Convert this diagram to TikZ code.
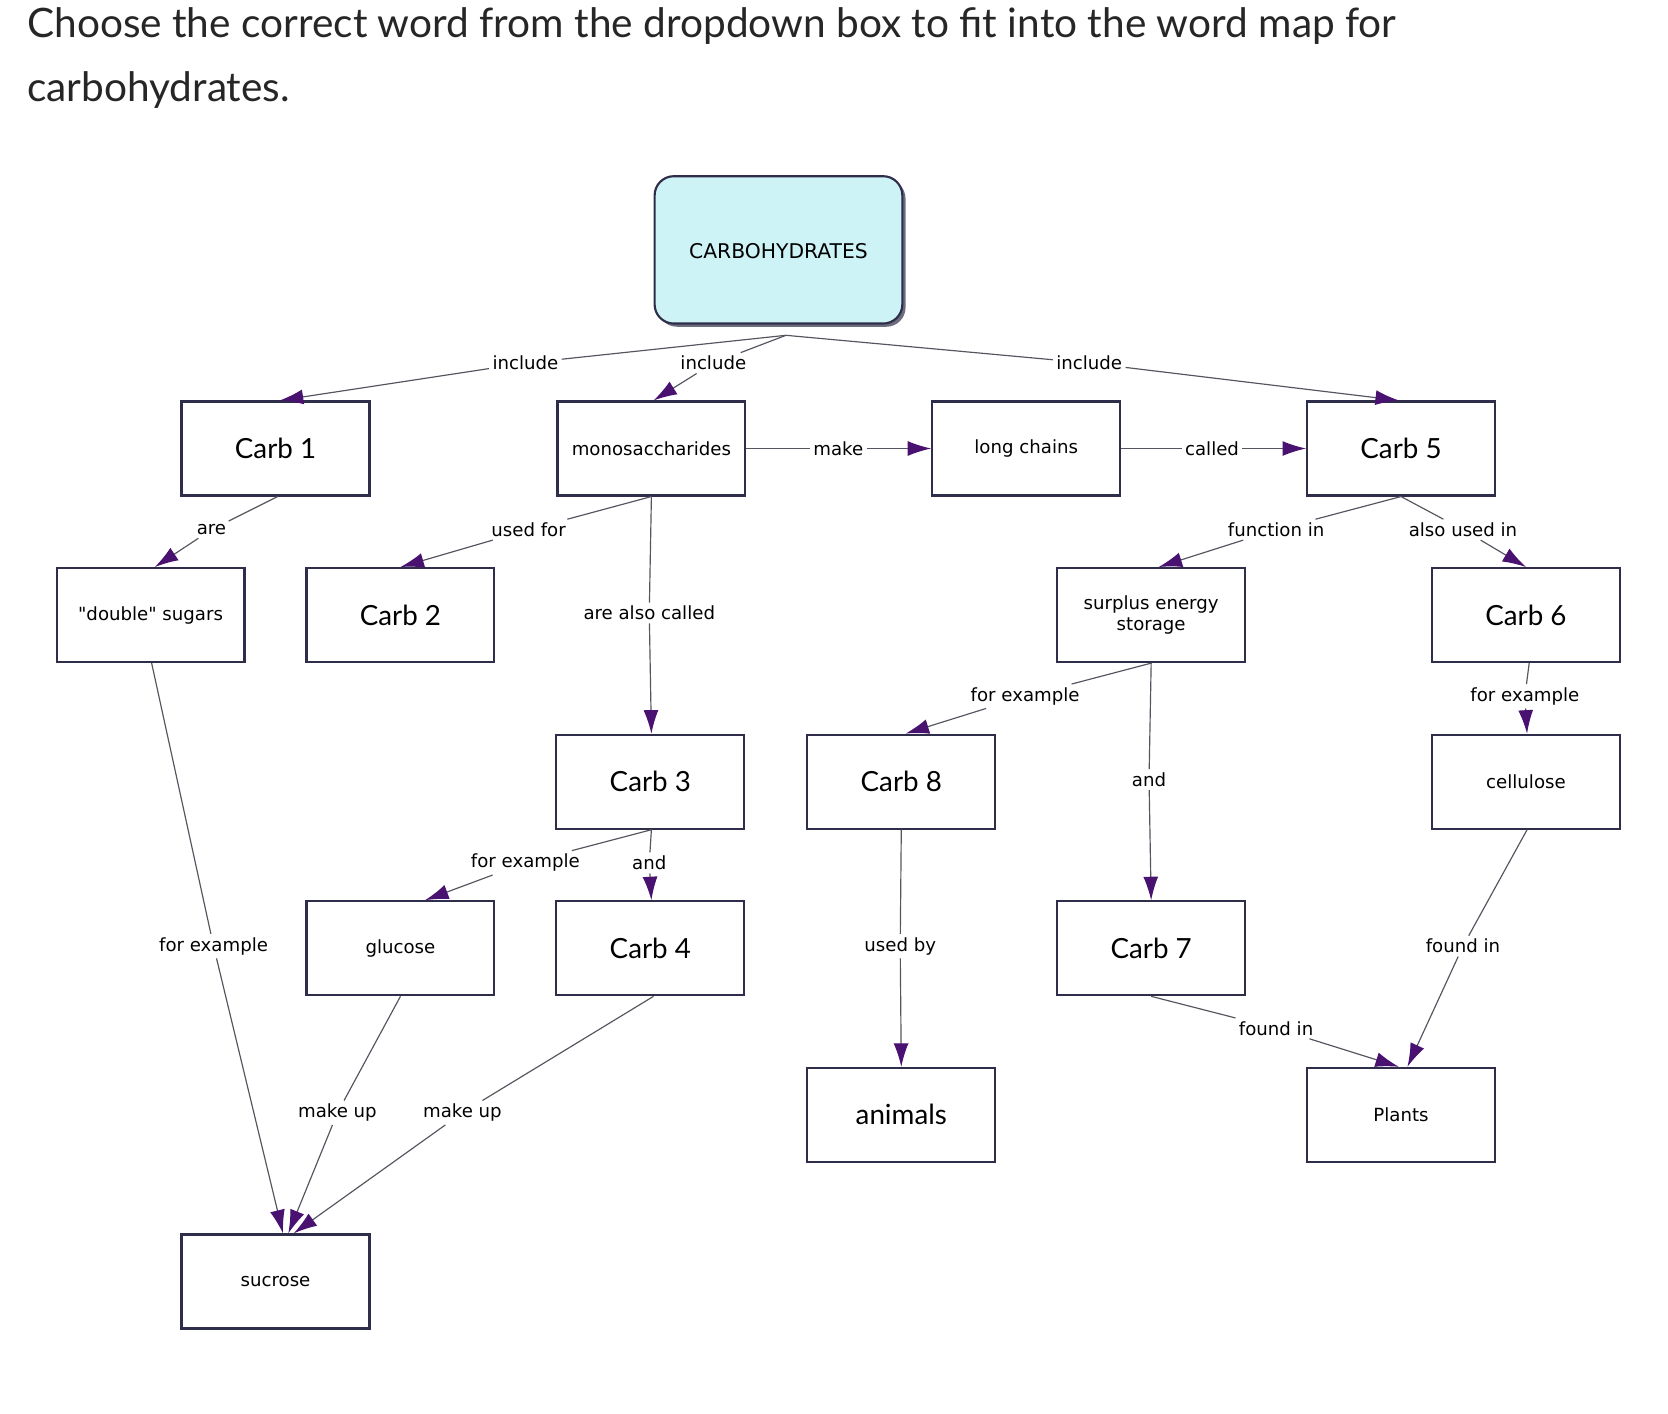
\documentclass[tikz,border=0pt]{standalone}
\usepackage{fontspec}
\setmainfont{Lato}
\newfontfamily\lblfont{DejaVu Sans}
\usetikzlibrary{arrows.meta,shadows,calc}
\definecolor{arr}{HTML}{4A1270}
\definecolor{bx}{HTML}{2E2E4A}
\definecolor{cy}{HTML}{CDF3F7}
\definecolor{ln}{HTML}{555560}
\tikzset{
 box/.style={draw=bx,line width=2pt,minimum width=176pt,minimum height=88pt,inner sep=0pt,fill=white},
 big/.style={font=\fontsize{26}{30}\selectfont},
 sm/.style={font=\lblfont\fontsize{17}{20}\selectfont},
 lbl/.style={font=\lblfont\fontsize{17}{20}\selectfont,inner sep=3pt},
 con/.style={draw=ln,line width=1.1pt},
 tip/.style={con,-{Latex[length=22pt,width=14pt,color=arr,fill=arr]}}
}
\begin{document}
\begin{tikzpicture}[x=1pt,y=-1pt]
\useasboundingbox (0,0) rectangle (1562,1324);
\node[anchor=base west,font=\fontsize{38}{44}\selectfont,text=black!85] (t1) at (22,35) {Choose the correct word from the dropdown box to fit into the word map for};
\node[anchor=base west,font=\fontsize{38}{44}\selectfont,text=black!85] (t2) at (22,95) {carbohydrates.};
% nodes
\node[box,fill=cy,rounded corners=18pt,minimum width=232pt,minimum height=138pt,drop shadow={shadow xshift=3pt,shadow yshift=-3pt,fill=bx!70,opacity=1}] (carb) at (729,234) {};
\node[font=\lblfont\fontsize{19}{22}\selectfont] (carbt) at (729,235) {CARBOHYDRATES};
\node[box,big] (c1) at (258,420) {Carb 1};
\node[box,sm] (mono) at (610,420) {monosaccharides};
\node[box,sm] (long) at (961,420) {long chains};
\node[box,big] (c5) at (1312,420) {Carb 5};
\node[box,sm] (dbl) at (141,576) {"double" sugars};
\node[box,big] (c2) at (375,576) {Carb 2};
\node[box,sm,align=center] (sur) at (1078,576) {surplus energy\\storage};
\node[box,big] (c6) at (1429,576) {Carb 6};
\node[box,big] (c3) at (609,732) {Carb 3};
\node[box,big] (c8) at (844,732) {Carb 8};
\node[box,sm] (cel) at (1429,732) {cellulose};
\node[box,sm] (glu) at (375,888) {glucose};
\node[box,big] (c4) at (609,888) {Carb 4};
\node[box,big] (c7) at (1078,888) {Carb 7};
\node[box,big] (ani) at (844,1044) {animals};
\node[box,sm] (pl) at (1312,1044) {Plants};
\node[box,sm] (suc) at (258,1200) {sucrose};
% labels
\node[lbl] (l1) at (492,340) {include};
\node[lbl] (l2) at (668,340) {include};
\node[lbl] (l3) at (1020,340) {include};
\node[lbl] (l4) at (785,420) {make};
\node[lbl] (l5) at (1135,420) {called};
\node[lbl] (l6) at (198,496) {are};
\node[lbl] (l7) at (495,496) {used for};
\node[lbl] (l8) at (608,574) {are also called};
\node[lbl] (l9) at (1195,496) {function in};
\node[lbl] (l10) at (1370,496) {also used in};
\node[lbl] (l11) at (960,652) {for example};
\node[lbl] (l12) at (1076,730) {and};
\node[lbl] (l13) at (1428,652) {for example};
\node[lbl] (l14) at (492,808) {for example};
\node[lbl] (l15) at (608,808) {and};
\node[lbl] (l16) at (200,886) {for example};
\node[lbl] (l17) at (316,1042) {make up};
\node[lbl] (l18) at (433,1042) {make up};
\node[lbl] (l19) at (843,886) {used by};
\node[lbl] (l20) at (1195,963) {found in};
\node[lbl] (l21) at (1370,886) {found in};
% connectors
\coordinate (cs) at ($(carb.south)+(7,10)$);
\draw[con] (cs) -- (l1); \draw[tip] (l1) -- ($(c1.north)+(4,0)$);
\draw[con] (cs) -- (l2); \draw[tip] (l2) -- ($(mono.north)+(2,0)$);
\draw[con] (cs) -- (l3); \draw[tip] (l3) -- ($(c5.north)+(-2,0)$);
\draw[con] (mono.east) -- (l4); \draw[tip] (l4) -- (long.west);
\draw[con] (long.east) -- (l5); \draw[tip] (l5) -- (c5.west);
\draw[con] ($(c1.south)+(2,0)$) -- (l6); \draw[tip] (l6) -- ($(dbl.north)+(4,0)$);
\draw[con] (mono.south) -- (l7); \draw[tip] (l7) -- (c2.north);
\draw[con] (mono.south) -- (l8); \draw[tip] (l8) -- ($(c3.north)+(1,0)$);
\draw[con] (c5.south) -- (l9); \draw[tip] (l9) -- ($(sur.north)+(7,0)$);
\draw[con] (c5.south) -- (l10); \draw[tip] (l10) -- (c6.north);
\draw[con] (sur.south) -- (l11); \draw[tip] (l11) -- ($(c8.north)+(4,0)$);
\draw[con] (sur.south) -- (l12); \draw[tip] (l12) -- (c7.north);
\draw[con] ($(c6.south)+(3,0)$) -- (l13); \draw[tip] (l13) -- ($(cel.north)+(1,0)$);
\draw[con] ($(c3.south)+(1,0)$) -- (l14); \draw[tip] (l14) -- ($(glu.north)+(23,0)$);
\draw[con] ($(c3.south)+(1,0)$) -- (l15); \draw[tip] (l15) -- ($(c4.north)+(1,0)$);
\draw[con] ($(dbl.south)+(1,0)$) -- (l16); \draw[tip] (l16) -- ($(suc.north)+(7,0)$);
\draw[con] (glu.south) -- (l17); \draw[tip] (l17) -- ($(suc.north)+(12,0)$);
\draw[con] ($(c4.south)+(3,0)$) -- (l18); \draw[tip] (l18) -- ($(suc.north)+(17,0)$);
\draw[con] (c8.south) -- (l19); \draw[tip] (l19) -- (ani.north);
\draw[con] (c7.south) -- (l20); \draw[tip] (l20) -- ($(pl.north)+(-2,0)$);
\draw[con] ($(cel.south)+(1,0)$) -- (l21); \draw[tip] (l21) -- ($(pl.north)+(6,0)$);
\end{tikzpicture}
\end{document}
